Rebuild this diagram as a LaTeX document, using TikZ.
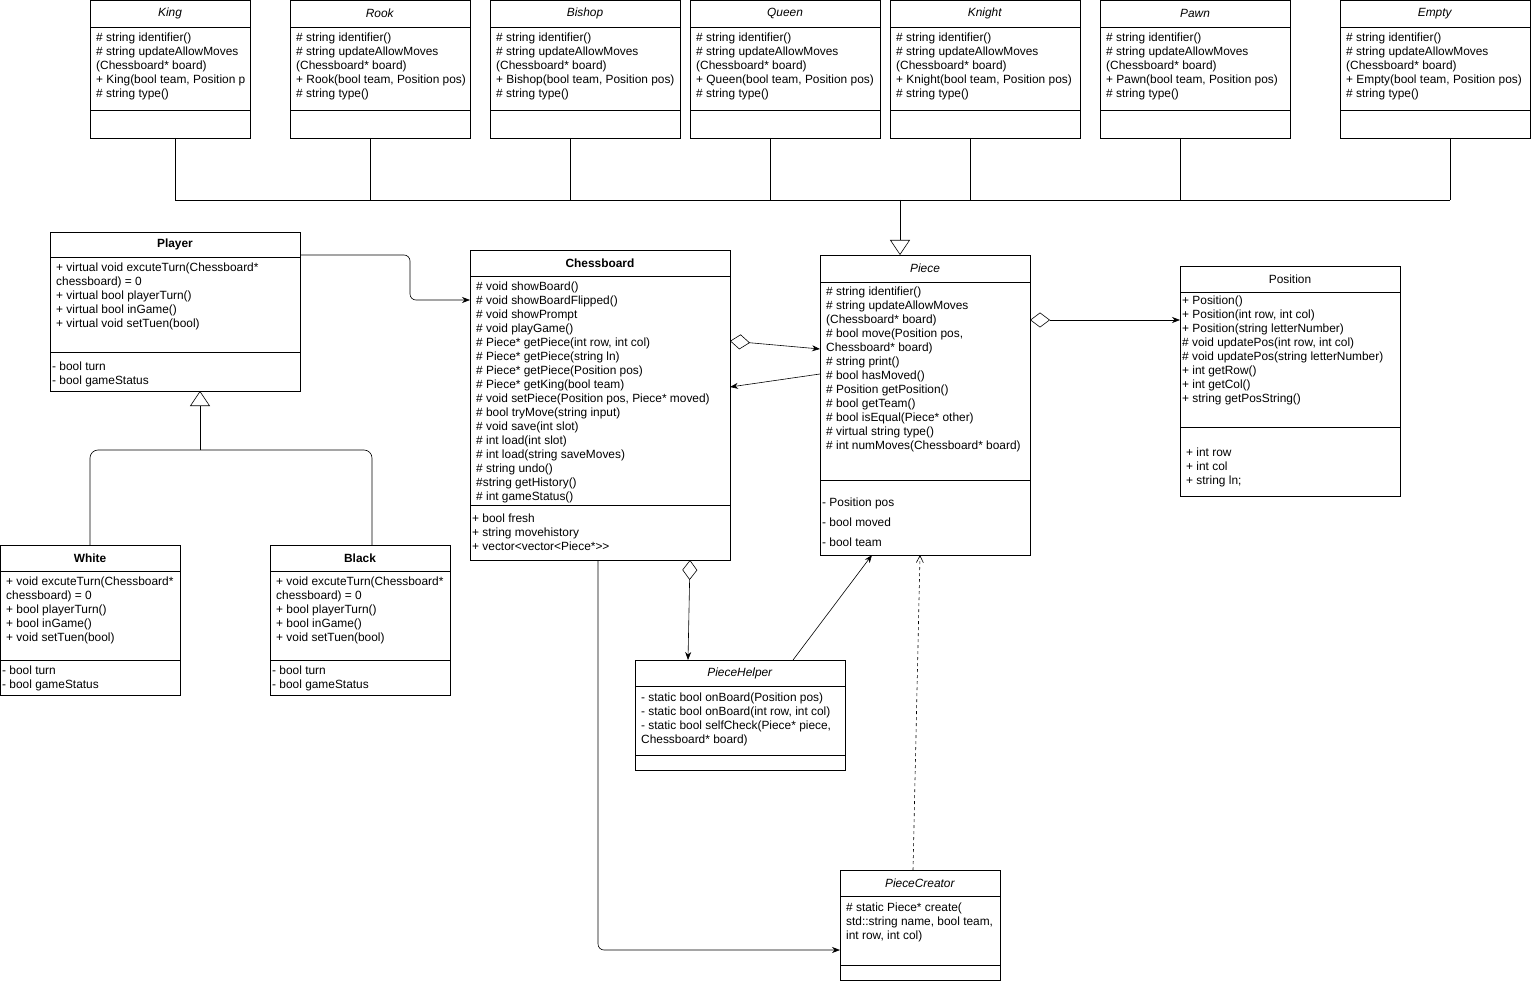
\documentclass[tikz,border=0pt]{standalone}
\usepackage{fontspec}
\setmainfont{Liberation Sans}
\usetikzlibrary{arrows.meta}

\tikzset{
  umlbox/.style={draw, inner sep=0, outer sep=0, line width=0.7pt},
  umltitle/.style={inner sep=0, font=\fontsize{11.9}{14}\selectfont},
  umltext/.style={anchor=north west, inner sep=0, align=left, font=\fontsize{11.9}{14}\selectfont},
  assoc/.style={-{Stealth[length=8pt,width=6pt]}, line width=0.6pt},
  aggr/.style={{Diamond[open,length=20pt,width=15pt]}-{Stealth[length=8pt,width=6pt]}, line width=0.6pt},
  inherit/.style={-{Triangle[open,length=15pt,width=20pt]}, line width=0.6pt},
  depend/.style={-{Straight Barb[length=7pt,width=7pt]}, dashed, line width=0.6pt}
}

% name, x1, y1, x2, y2, title line, compartment line, title
\newcommand\umlclass[8]{%
  \node[umlbox, minimum width={(#4-#2)*1pt}, minimum height={(#5-#3)*1pt}] (#1) at ({(#2+#4)/2},{(#3+#5)/2}) {};
  \draw[line width=0.7pt] (#2,#6) -- (#4,#6) (#2,#7) -- (#4,#7);
  \node[umltitle] at ({(#2+#4)/2},{(#3+#6)/2}) {#8};}

\begin{document}
\begin{tikzpicture}[x=1pt,y=-1pt]
\useasboundingbox (0,0) rectangle (1531,981);

% pieces
\umlclass{king}{90}{0}{250}{138}{27}{110}{\textit{King}}
\umlclass{rook}{290}{0}{470}{138}{27}{110}{\textit{Rook}}
\umlclass{bishop}{490}{0}{680}{138}{27}{110}{\textit{Bishop}}
\umlclass{queen}{690}{0}{880}{138}{27}{110}{\textit{Queen}}
\umlclass{knight}{890}{0}{1080}{138}{27}{110}{\textit{Knight}}
\umlclass{pawn}{1100}{0}{1290}{138}{27}{110}{\textit{Pawn}}
\umlclass{empty}{1340}{0}{1530}{138}{27}{110}{\textit{Empty}}
\node[umltext] (king-ops) at (96,33) {\# string identifier()\\\# string updateAllowMoves\\(Chessboard* board)\\+ King(bool team, Position p\\\# string type()};
\node[umltext] (rook-ops) at (296,33) {\# string identifier()\\\# string updateAllowMoves\\(Chessboard* board)\\+ Rook(bool team, Position pos)\\\# string type()};
\node[umltext] (bishop-ops) at (496,33) {\# string identifier()\\\# string updateAllowMoves\\(Chessboard* board)\\+ Bishop(bool team, Position pos)\\\# string type()};
\node[umltext] (queen-ops) at (696,33) {\# string identifier()\\\# string updateAllowMoves\\(Chessboard* board)\\+ Queen(bool team, Position pos)\\\# string type()};
\node[umltext] (knight-ops) at (896,33) {\# string identifier()\\\# string updateAllowMoves\\(Chessboard* board)\\+ Knight(bool team, Position pos)\\\# string type()};
\node[umltext] (pawn-ops) at (1106,33) {\# string identifier()\\\# string updateAllowMoves\\(Chessboard* board)\\+ Pawn(bool team, Position pos)\\\# string type()};
\node[umltext] (empty-ops) at (1346,33) {\# string identifier()\\\# string updateAllowMoves\\(Chessboard* board)\\+ Empty(bool team, Position pos)\\\# string type()};

% players
\umlclass{player}{50}{232}{300}{391}{257}{352}{\textbf{Player}}
\node[umltext] (player-ops) at (56,263) {+ virtual void excuteTurn(Chessboard*\\chessboard) = 0\\+ virtual bool playerTurn()\\+ virtual bool inGame()\\+ virtual void setTuen(bool)};
\node[umltext] (player-attr) at (52,362) {- bool turn\\- bool gameStatus};
\umlclass{white}{0}{545}{180}{695}{571}{660}{\textbf{White}}
\node[umltext] (white-ops) at (6,577) {+ void excuteTurn(Chessboard*\\chessboard) = 0\\+ bool playerTurn()\\+ bool inGame()\\+ void setTuen(bool)};
\node[umltext] (white-attr) at (2,666) {- bool turn\\- bool gameStatus};
\umlclass{black}{270}{545}{450}{695}{571}{660}{\textbf{Black}}
\node[umltext] (black-ops) at (276,577) {+ void excuteTurn(Chessboard*\\chessboard) = 0\\+ bool playerTurn()\\+ bool inGame()\\+ void setTuen(bool)};
\node[umltext] (black-attr) at (272,666) {- bool turn\\- bool gameStatus};

% board
\umlclass{chessboard}{470}{250}{730}{560}{276}{505}{\textbf{Chessboard}}
\node[umltext] (chessboard-ops) at (476,282) {\# void showBoard()\\\# void showBoardFlipped()\\\# void showPrompt\\\# void playGame()\\\# Piece* getPiece(int row, int col)\\\# Piece* getPiece(string ln)\\\# Piece* getPiece(Position pos)\\\# Piece* getKing(bool team)\\\# void setPiece(Position pos, Piece* moved)\\\# bool tryMove(string input)\\\# void save(int slot)\\\# int load(int slot)\\\# int load(string saveMoves)\\\# string undo()\\\#string getHistory()\\\# int gameStatus()};
\node[umltext] (chessboard-attr) at (472,514) {+ bool fresh\\+ string movehistory\\+ vector<vector<Piece*>{}>};

\umlclass{piece}{820}{255}{1030}{555}{282}{480}{\textit{Piece}}
\node[umltext] (piece-ops) at (826,287) {\# string identifier()\\\# string updateAllowMoves\\(Chessboard* board)\\\# bool move(Position pos,\\Chessboard* board)\\\# string print()\\\# bool hasMoved()\\\# Position getPosition()\\\# bool getTeam()\\\# bool isEqual(Piece* other)\\\# virtual string type()\\\# int numMoves(Chessboard* board)};
\node[umltext, font=\fontsize{11.9}{20}\selectfont] (piece-attr) at (822,498) {- Position pos\\- bool moved\\- bool team};

\umlclass{position}{1180}{266}{1400}{496}{292}{427}{Position}
\node[umltext] (position-ops) at (1182,296) {+ Position()\\+ Position(int row, int col)\\+ Position(string letterNumber)\\\# void updatePos(int row, int col)\\\# void updatePos(string letterNumber)\\+ int getRow()\\+ int getCol()\\+ string getPosString()};
\node[umltext] (position-attr) at (1186,448) {+ int row\\+ int col\\+ string ln;};

\umlclass{helper}{635}{660}{845}{770}{686}{755}{\textit{PieceHelper}}
\node[umltext] (helper-ops) at (641,693) {- static bool onBoard(Position pos)\\- static bool onBoard(int row, int col)\\- static bool selfCheck(Piece* piece,\\Chessboard* board)};

\umlclass{creator}{840}{870}{1000}{980}{896}{965}{\textit{PieceCreator}}
\node[umltext] (creator-ops) at (846,903) {\# static Piece* create(\\std::string name, bool team,\\ int row, int col)};

% inheritance
\coordinate (bus) at (900,200);
\coordinate (hub) at (200,450);
\draw[line width=0.6pt] ([xshift=5]king.south |- bus) -- ([xshift=15]empty.south |- bus);
\draw[line width=0.6pt] ([xshift=5]king.south) -- ([xshift=5]king.south |- bus);
\draw[line width=0.6pt] ([xshift=-10]rook.south) -- ([xshift=-10]rook.south |- bus);
\draw[line width=0.6pt] ([xshift=-15]bishop.south) -- ([xshift=-15]bishop.south |- bus);
\draw[line width=0.6pt] ([xshift=-15]queen.south) -- ([xshift=-15]queen.south |- bus);
\draw[line width=0.6pt] ([xshift=-15]knight.south) -- ([xshift=-15]knight.south |- bus);
\draw[line width=0.6pt] ([xshift=-15]pawn.south) -- ([xshift=-15]pawn.south |- bus);
\draw[line width=0.6pt] ([xshift=15]empty.south) -- ([xshift=15]empty.south |- bus);
\draw[inherit] (bus) -- ([xshift=-25]piece.north);
\draw[line width=0.6pt, rounded corners=8] (white.north) |- (hub) -| ([xshift=12]black.north);
\draw[inherit] (hub) -- ([xshift=25]player.south);

% associations
\draw[assoc, rounded corners=6] ([yshift=-23]player.north east) -- (410,255) -- (410,300) -- ([yshift=-50]chessboard.north west);
\draw[aggr] ([yshift=-91]chessboard.north east) -- ([yshift=-94]piece.north west);
\draw[assoc] ([yshift=-119]piece.north west) -- ([yshift=-137]chessboard.north east);
\draw[aggr] ([yshift=-65]piece.north east) -- ([yshift=-54]position.north west);
\draw[aggr] ([xshift=90]chessboard.south) -- ([xshift=-52]helper.north);
\draw[assoc] ([xshift=53]helper.north) -- ([xshift=-53]piece.south);
\draw[depend] ([xshift=-7]creator.north) -- ([xshift=-5]piece.south);
\draw[assoc, rounded corners=6] ([xshift=-2]chessboard.south) |- ([yshift=-25]creator.west);
\end{tikzpicture}
\end{document}
